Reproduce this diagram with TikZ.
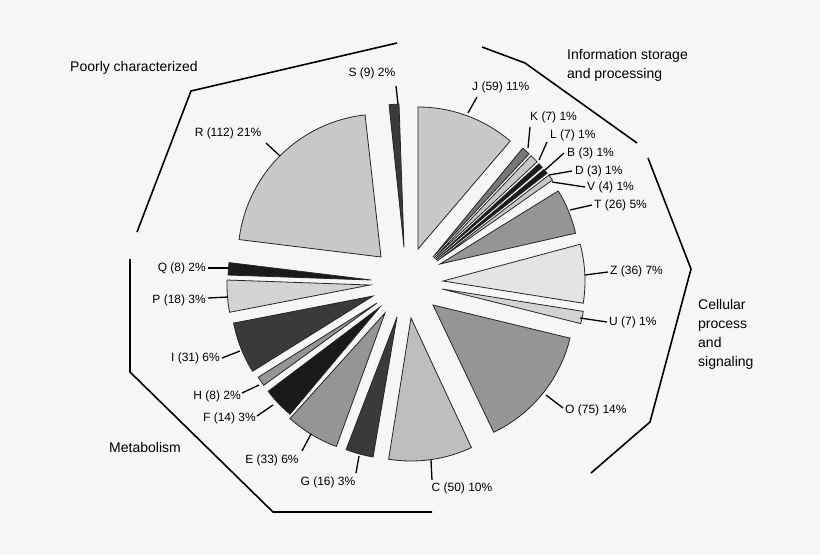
\documentclass[tikz,border=0pt]{standalone}
\usepackage{fontspec}
\setmainfont{Liberation Sans}
\definecolor{bg}{HTML}{F6F6F6}
\definecolor{lt}{HTML}{C8C8C8}
\definecolor{vl}{HTML}{E4E4E4}
\definecolor{md}{HTML}{959595}
\definecolor{dk}{HTML}{3A3A3B}
\definecolor{bk}{HTML}{1A1A1A}
\tikzset{sl/.style={draw=black!85,line width=0.8pt,line join=miter},
 ld/.style={line width=1.3pt},
 fr/.style={line width=1.6pt},
 lab/.style={font=\fontsize{12}{14}\selectfont,inner sep=1pt},
 grp/.style={font=\fontsize{14}{19}\selectfont,align=left,inner sep=0pt}}
\newcommand\slc[7]{\filldraw[sl,fill=#7] (#1,#2) -- ++({-(#3)}:#5) arc[start angle={-(#3)},end angle={-(#4)},radius=#5] -- cycle;}
\begin{document}
\begin{tikzpicture}[x=1pt,y=-1pt]
\fill[bg] (0,0) rectangle (820,555);
\useasboundingbox (0,0) rectangle (820,555);
% slices
\slc{404}{247}{96}{92}{143}{}{dk}
\slc{418}{249}{90}{49.5}{142}{}{lt}
\slc{433}{257}{50.5}{47}{141}{}{md!80!black}
\slc{434}{258}{46.5}{43}{141}{}{lt}
\slc{435}{259}{42.5}{40.5}{141}{}{bk}
\slc{436}{260}{40}{38}{141}{}{bk}
\slc{437}{261}{37.5}{35}{141}{}{lt}
\slc{440}{264}{31.7}{12.8}{139}{}{md}
\slc{443}{281}{15}{-9}{142}{}{vl}
\slc{442}{289}{-9}{-14}{143}{}{lt!80!white}
\slc{433}{305}{-13.6}{-64.5}{141}{}{md}
\slc{411}{318}{-65}{-99}{143}{}{lt!95!black}
\slc{397}{317}{-99.7}{-111}{142}{}{dk}
\slc{385}{313}{-110}{-132}{142}{}{md}
\slc{380}{307}{-130}{-143}{140}{}{bk}
\slc{377}{303}{-144}{-148}{140}{}{md}
\slc{373}{296}{-148}{-169}{142}{}{dk}
\slc{370}{285}{-169}{-182}{143}{}{lt!80!white}
\slc{371}{280}{-182}{-187}{143}{}{bk}
\slc{381}{257}{96.4}{173}{143}{}{lt}
% labels and leaders
\node[lab] (S) at (372,73) {S (9) 2\%};
\draw[ld] (396,86) -- (398,104);
\node[lab,anchor=west] (J) at (471,87) {J (59) 11\%};
\draw[ld] (477,97) -- (468,113);
\node[lab,anchor=west] (K) at (529,117) {K (7) 1\%};
\draw[ld] (530,127) -- (528,148);
\node[lab,anchor=west] (L) at (549,135) {L (7) 1\%};
\draw[ld] (547,142) -- (539,160);
\node[lab,anchor=west] (B) at (566,153) {B (3) 1\%};
\draw[ld] (564,153) -- (545,170);
\node[lab,anchor=west] (D) at (574,171) {D (3) 1\%};
\draw[ld] (572,171) -- (549,175);
\node[lab,anchor=west] (V) at (586,187) {V (4) 1\%};
\draw[ld] (585,187) -- (552,182);
\node[lab,anchor=west] (T) at (593,205) {T (26) 5\%};
\draw[ld] (592,205) -- (570,210);
\node[lab,anchor=west] (Z) at (609,271) {Z (36) 7\%};
\draw[ld] (608,272) -- (585,275);
\node[lab,anchor=west] (U) at (608,322) {U (7) 1\%};
\draw[ld] (607,322) -- (580,318);
\node[lab,anchor=west] (O) at (564,410) {O (75) 14\%};
\draw[ld] (563,408) -- (546,395);
\node[lab] (C) at (462,488) {C (50) 10\%};
\draw[ld] (432,480) -- (431,460);
\node[lab] (G) at (328,482) {G (16) 3\%};
\draw[ld] (356,473) -- (359,456);
\node[lab] (E) at (272,460) {E (33) 6\%};
\draw[ld] (302,451) -- (311,434);
\node[lab,anchor=east] (F) at (257,418) {F (14) 3\%};
\draw[ld] (257,416) -- (273,405);
\node[lab,anchor=east] (H) at (242,396) {H (8) 2\%};
\draw[ld] (242,393) -- (259,385);
\node[lab,anchor=east] (I) at (221,358) {I (31) 6\%};
\draw[ld] (222,358) -- (240,351);
\node[lab,anchor=east] (P) at (207,300) {P (18) 3\%};
\draw[ld] (208,298) -- (228,297);
\node[lab,anchor=east] (Q) at (207,268) {Q (8) 2\%};
\draw[ld] (208,268) -- (228,268);
\node[lab] (R) at (228,133) {R (112) 21\%};
\draw[ld] (266,143) -- (280,156);
% groups
\node[grp] (pc) at (134,68) {Poorly characterized};
\node[grp,anchor=north west] (isp) at (567,49) {Information storage\\and processing};
\node[grp,anchor=north west,text width=80pt] (cps) at (698,299) {Cellular\\process\\and\\signaling};
\node[grp] (met) at (145,447) {Metabolism};
\draw[fr] (397,43) -- (191,91) -- (137,232);
\draw[fr] (482,47) -- (525,63) -- (637,143);
\draw[fr] (648,158) -- (691,269) -- (650,422) -- (591,473);
\draw[fr] (130,259) -- (130,372) -- (273,512) -- (432,512);
\end{tikzpicture}
\end{document}
